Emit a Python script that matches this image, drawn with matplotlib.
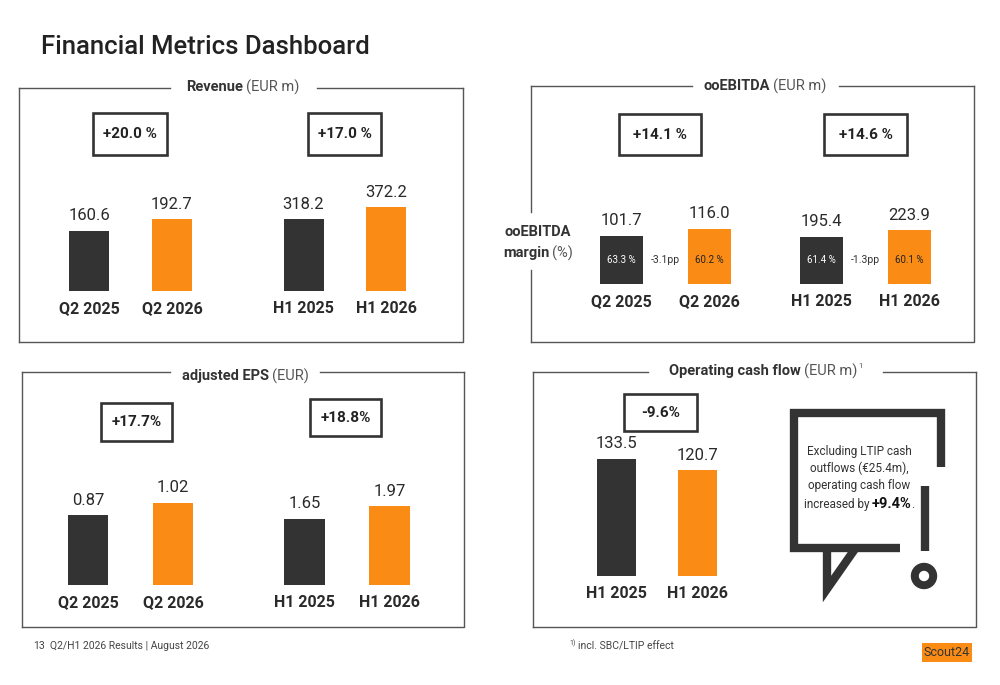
import matplotlib
matplotlib.use('Agg')
import matplotlib.pyplot as plt
from matplotlib.patches import Rectangle, Circle
from matplotlib.lines import Line2D

plt.rcParams['font.family'] = ['Roboto', 'DejaVu Sans']

# Colours
DARK = '#333333'
ORANGE = '#FA8C16'
TXT = '#333333'
GREY = '#555555'

# Data
q2_cats = ['Q2 2025', 'Q2 2026']
h1_cats = ['H1 2025', 'H1 2026']

rev_q2 = [160.6, 192.7]
rev_h1 = [318.2, 372.2]
rev_growth = ['+20.0 %', '+17.0 %']

ebitda_q2 = [101.7, 116.0]
ebitda_h1 = [195.4, 223.9]
ebitda_growth = ['+14.1 %', '+14.6 %']
margin_q2 = ['63.3 %', '60.2 %']
margin_h1 = ['61.4 %', '60.1 %']
margin_delta = ['-3.1pp', '-1.3pp']

eps_q2 = [0.87, 1.02]
eps_h1 = [1.65, 1.97]
eps_growth = ['+17.7%', '+18.8%']

ocf_h1 = [133.5, 120.7]
ocf_growth = ['-9.6%']

bubble_lines = ['Excluding LTIP cash', 'outflows (\u20ac25.4m),', 'operating cash flow']
bubble_last = ['increased by', '+9.4%', '.']

fig = plt.figure(figsize=(10, 6.85), dpi=100)
bg = fig.add_axes([0, 0, 1, 1])
bg.set_xlim(0, 1000)
bg.set_ylim(685, 0)
bg.axis('off')
renderer = fig.canvas.get_renderer()


def px_axes(x0, y0, x1, y1):
    return fig.add_axes([x0 / 1000, 1 - y1 / 685, (x1 - x0) / 1000, (y1 - y0) / 685])


def mixed(x, y, parts, ha='center'):
    # parts: (text, weight, colour, size, gap after in px)
    arts, widths = [], []
    for s, wt, col, sz, gap in parts:
        t = bg.text(0, y, s, fontsize=sz, fontweight=wt, color=col, ha='left', va='center')
        widths.append(t.get_window_extent(renderer).width + gap)
        arts.append(t)
    total = sum(widths)
    start = x - total / 2 if ha == 'center' else x
    for t, w in zip(arts, widths):
        t.set_x(start)
        start += w
    return start


def frame(l, t, r, b, gap, left_gap=None):
    kw = dict(color=GREY, lw=1.0)
    bg.plot([l, gap[0]], [t, t], **kw)
    bg.plot([gap[1], r], [t, t], **kw)
    bg.plot([r, r, l], [t, b, b], **kw)
    if left_gap is None:
        bg.plot([l, l], [b, t], **kw)
    else:
        bg.plot([l, l], [b, left_gap[1]], **kw)
        bg.plot([l, l], [left_gap[0], t], **kw)


def growth_box(x0, y0, x1, y1, label):
    bg.add_patch(Rectangle((x0, y0), x1 - x0, y1 - y0, fill=False, ec=DARK, lw=1.9))
    bg.text((x0 + x1) / 2, (y0 + y1) / 2, label, fontsize=11, fontweight='bold',
            color='#222222', ha='center', va='center')


def bar_pair(vals, cats, c0, c1, bw, base, maxbar, fmt):
    d = c1 - c0
    ax = px_axes(c0 - d / 2, base - maxbar, c1 + d / 2, base)
    ax.bar(range(len(vals)), vals, width=bw / d, color=[DARK, ORANGE][:len(vals)])
    ax.set_xlim(-0.5, 1.5)
    ax.set_ylim(0, max(vals))
    ax.axis('off')
    ax.patch.set_visible(False)
    for i, v in enumerate(vals):
        ax.annotate(fmt.format(v), (i, v), xytext=(0, 15), textcoords='offset pixels',
                    ha='center', va='center', fontsize=12, color='#2a2a2a',
                    annotation_clip=False)
        ax.annotate(cats[i], (i, 0), xytext=(0, -17.5), textcoords='offset pixels',
                    ha='center', va='center', fontsize=11.5, fontweight='semibold',
                    color='#2a2a2a', annotation_clip=False)
    return ax


# Title
bg.text(41, 47, 'Financial Metrics Dashboard', fontsize=18.5, fontweight='medium',
        color='#222222', ha='left', va='center')

# Revenue
frame(19, 88, 463, 342, (170, 317))
mixed(243, 87, [('Revenue', 'semibold', TXT, 10.5, 3), ('(EUR m)', 'normal', GREY, 10.5, 0)])
growth_box(93, 113, 167, 155, rev_growth[0])
growth_box(308, 113, 381, 155, rev_growth[1])
bar_pair(rev_q2, q2_cats, 89, 172, 40, 291, 72, '{:.1f}')
bar_pair(rev_h1, h1_cats, 303.5, 386, 40, 291, 84, '{:.1f}')

# ooEBITDA
frame(531, 86, 974, 342, (692, 839), left_gap=(212, 270))
mixed(765, 86, [('ooEBITDA', 'semibold', TXT, 10.5, 3), ('(EUR m)', 'normal', GREY, 10.5, 0)])
growth_box(619, 114, 701, 155, ebitda_growth[0])
growth_box(824, 114, 907, 155, ebitda_growth[1])
mixed(538, 232, [('ooEBITDA', 'semibold', TXT, 10.5, 0)])
mixed(538, 253, [('margin', 'semibold', TXT, 10.5, 3), ('(%)', 'normal', GREY, 10.5, 0)])
for vals, cats, c0, c1, maxbar, margins, delta in [
        (ebitda_q2, q2_cats, 621.5, 709.5, 55, margin_q2, margin_delta[0]),
        (ebitda_h1, h1_cats, 821, 909.5, 54, margin_h1, margin_delta[1])]:
    ax = bar_pair(vals, cats, c0, c1, 43, 284, maxbar, '{:.1f}')
    ymid = min(vals) / 2
    ax.text(0, ymid, margins[0], fontsize=7, color='white', ha='center', va='center')
    ax.text(1, ymid, margins[1], fontsize=7, color='#222222', ha='center', va='center')
    ax.text(0.5, ymid, delta, fontsize=7.5, color=TXT, ha='center', va='center')

# adjusted EPS
frame(22, 372, 464, 627, (170, 320))
mixed(245, 376, [('adjusted EPS', 'semibold', TXT, 10.5, 3), ('(EUR)', 'normal', GREY, 10.5, 0)])
growth_box(101, 403, 172, 441, eps_growth[0])
growth_box(310, 399, 381, 436, eps_growth[1])
bar_pair(eps_q2, q2_cats, 88, 173, 40, 585, 82, '{:.2f}')
bar_pair(eps_h1, h1_cats, 304.5, 389.5, 41, 585, 79, '{:.2f}')

# Operating cash flow
frame(533, 372, 976, 627, (648, 883))
end = mixed(763, 371, [('Operating cash flow', 'semibold', TXT, 10.5, 3),
                       ('(EUR m)', 'normal', GREY, 10.5, 0)])
bg.text(end + 1, 366, '1', fontsize=5.5, color=GREY, ha='left', va='center')
growth_box(624, 394, 697, 431, ocf_growth[0])
bar_pair(ocf_h1, h1_cats, 616, 697, 39, 576, 117, '{:.1f}')

# Speech bubble
bkw = dict(color=DARK, lw=6.0, solid_joinstyle='miter', solid_capstyle='butt')
bg.add_line(Line2D([900, 793.5, 793.5, 941, 941], [547.5, 547.5, 413, 413, 467], **bkw))
bg.add_line(Line2D([827, 827, 856], [547.5, 589, 547.5], **bkw))
bg.add_line(Line2D([925, 925], [486, 551], **bkw))
bg.add_patch(Circle((924, 576), 12.5, color=DARK))
bg.add_patch(Circle((924, 576), 4.5, color='white'))
for i, line in enumerate(bubble_lines):
    bg.text(859, 451 + i * 17, line, fontsize=8.5, color=TXT, ha='center', va='center')
mixed(859, 504, [(bubble_last[0], 'normal', TXT, 8.5, 3),
                 (bubble_last[1], 'bold', '#111111', 10.5, -0.5),
                 (bubble_last[2], 'normal', TXT, 8.5, 0)])

# Footer
bg.text(33, 646, '13', fontsize=7.5, color='#444444', ha='left', va='center')
bg.text(50, 646, 'Q2/H1 2026 Results | August 2026', fontsize=7.5, color='#444444', ha='left', va='center')
bg.text(569, 643, '1)', fontsize=5, color='#444444', ha='left', va='center')
bg.text(578, 646, 'incl. SBC/LTIP effect', fontsize=7.5, color='#444444', ha='left', va='center')
bg.add_patch(Rectangle((922, 643), 50, 19, color=ORANGE, lw=0))
bg.text(947, 652.5, 'Scout24', fontsize=9, color='#333333', ha='center', va='center')

fig.savefig('out.png', dpi=100)
